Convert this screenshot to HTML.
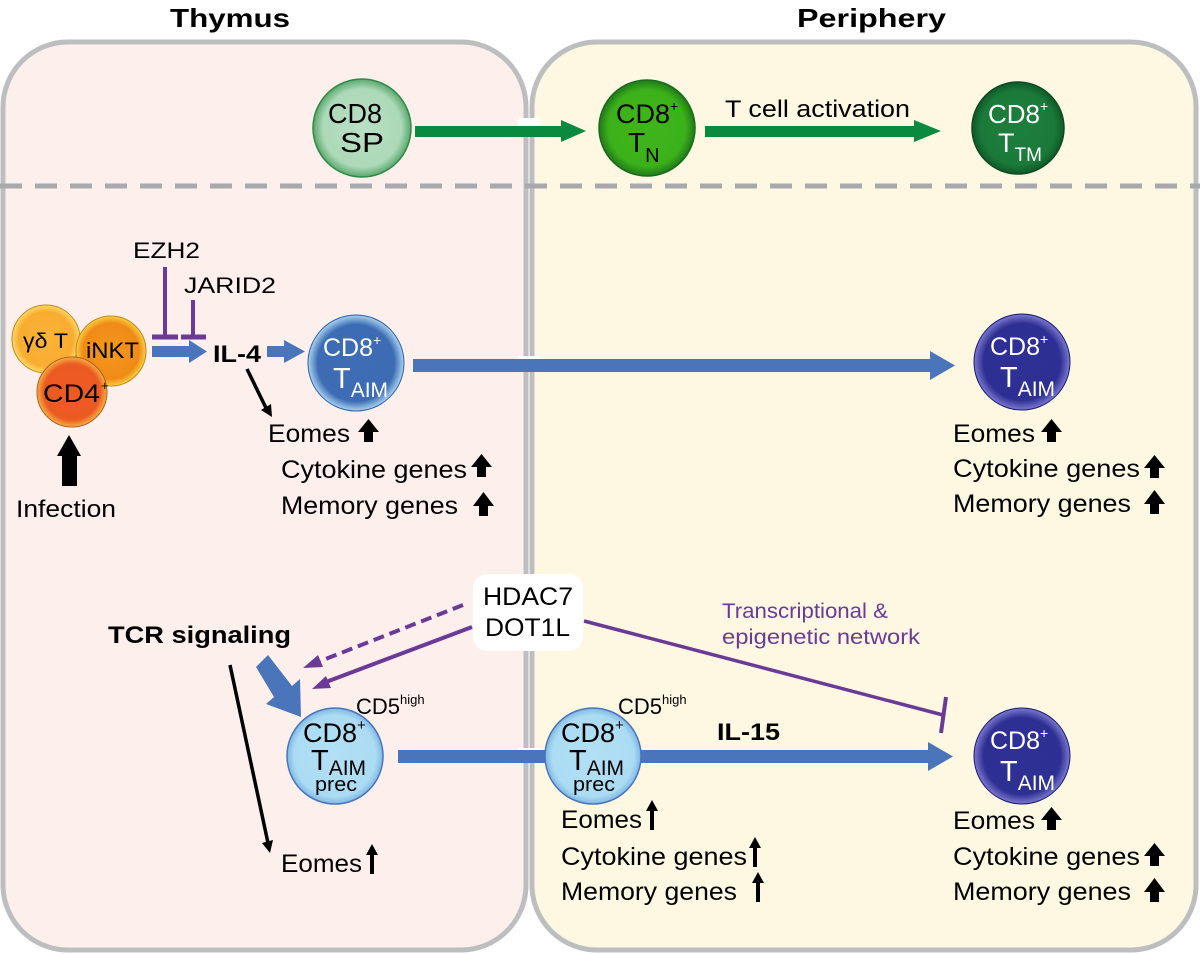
<!DOCTYPE html>
<html><head><meta charset="utf-8"><style>
html,body{margin:0;padding:0;background:#fff}
svg{display:block;font-family:"Liberation Sans",Arial,sans-serif}
</style></head><body>
<svg width="1200" height="954" viewBox="0 0 1200 954" xmlns="http://www.w3.org/2000/svg" font-size="24">
<defs>
<radialGradient id="gSP" cx="50%" cy="50%" r="50%"><stop offset="0" stop-color="#b9e0c4"/><stop offset="0.8" stop-color="#acd9b8"/><stop offset="1" stop-color="#5aa86e"/></radialGradient>
<radialGradient id="gTN" cx="50%" cy="50%" r="50%"><stop offset="0" stop-color="#3fb51c"/><stop offset="0.8" stop-color="#3cb11a"/><stop offset="1" stop-color="#1f7a1a"/></radialGradient>
<radialGradient id="gTM" cx="50%" cy="50%" r="50%"><stop offset="0" stop-color="#1d7f3c"/><stop offset="0.8" stop-color="#1b7a3a"/><stop offset="1" stop-color="#0f5a28"/></radialGradient>
<radialGradient id="gB" cx="50%" cy="50%" r="50%"><stop offset="0" stop-color="#3e6db5"/><stop offset="0.8" stop-color="#3d6cb4"/><stop offset="1" stop-color="#a9d4f0"/></radialGradient>
<radialGradient id="gD" cx="50%" cy="50%" r="50%"><stop offset="0" stop-color="#2f3094"/><stop offset="0.8" stop-color="#2e2f92"/><stop offset="1" stop-color="#7a7ad0"/></radialGradient>
<radialGradient id="gL" cx="50%" cy="50%" r="50%"><stop offset="0" stop-color="#b2e0f5"/><stop offset="0.85" stop-color="#abdcf3"/><stop offset="1" stop-color="#7fb8e4"/></radialGradient>
<radialGradient id="gY" cx="50%" cy="50%" r="50%"><stop offset="0" stop-color="#fbb33a"/><stop offset="0.8" stop-color="#f9ad30"/><stop offset="1" stop-color="#fbd86a"/></radialGradient>
<radialGradient id="gO" cx="50%" cy="50%" r="50%"><stop offset="0" stop-color="#f39a1c"/><stop offset="0.8" stop-color="#f08a18"/><stop offset="1" stop-color="#f8d040"/></radialGradient>
<radialGradient id="gR" cx="50%" cy="50%" r="50%"><stop offset="0" stop-color="#ef5a22"/><stop offset="0.8" stop-color="#ec5a24"/><stop offset="1" stop-color="#f5b040"/></radialGradient>
</defs>
<!-- panels -->
<rect x="3" y="42" width="523" height="908" rx="65" fill="#fdefec" stroke="#bcbec0" stroke-width="5"/>
<rect x="532" y="42" width="664" height="908" rx="65" fill="#fef8e2" stroke="#bcbec0" stroke-width="5"/>
<rect x="518" y="118" width="22" height="14" fill="#fff"/>
<rect x="518" y="356" width="22" height="10" fill="#fff"/>
<rect x="518" y="748" width="22" height="14" fill="#fff"/>
<line x1="0" y1="186" x2="1200" y2="186" stroke="#a7a9ac" stroke-width="5" stroke-dasharray="22,13"/>
<text x="170" y="27" font-size="26" font-weight="bold" textLength="120" lengthAdjust="spacingAndGlyphs">Thymus</text>
<text x="797" y="27" font-size="26" font-weight="bold" textLength="149" lengthAdjust="spacingAndGlyphs">Periphery</text>

<!-- top row -->
<circle cx="362" cy="128" r="49" fill="url(#gSP)" stroke="#2f8a45" stroke-width="1.5"/>
<text x="328" y="123" font-size="28" textLength="54" lengthAdjust="spacingAndGlyphs">CD8</text>
<text x="340" y="152" font-size="28" textLength="44" lengthAdjust="spacingAndGlyphs">SP</text>
<rect x="415" y="126" width="150" height="11" fill="#0a8a3e"/>
<polygon points="561,120 586,131 561,142" fill="#0a8a3e"/>
<circle cx="647" cy="128" r="48" fill="url(#gTN)" stroke="#1d6a1c" stroke-width="1.5"/>
<text x="616" y="123" font-size="27">CD8<tspan font-size="14" dy="-12">+</tspan></text>
<text x="628" y="152" font-size="28">T<tspan font-size="20" dy="10">N</tspan></text>
<rect x="705" y="126" width="212" height="11" fill="#0a8a3e"/>
<polygon points="914,120 941,131 914,142" fill="#0a8a3e"/>
<text x="725" y="117" textLength="185" lengthAdjust="spacingAndGlyphs">T cell activation</text>
<circle cx="1018" cy="128" r="46" fill="url(#gTM)" stroke="#0d4a20" stroke-width="1.5"/>
<text x="988" y="123" font-size="26" fill="#fff">CD8<tspan font-size="14" dy="-12">+</tspan></text>
<text x="998" y="152" font-size="27" fill="#fff">T<tspan font-size="19" dy="9">TM</tspan></text>

<!-- IL-4 row -->
<text x="133" y="258" font-size="22" textLength="67" lengthAdjust="spacingAndGlyphs">EZH2</text>
<text x="184" y="293" font-size="22" textLength="92" lengthAdjust="spacingAndGlyphs">JARID2</text>
<line x1="165" y1="267" x2="165" y2="336" stroke="#6a3a96" stroke-width="4"/>
<line x1="152" y1="337" x2="178" y2="337" stroke="#6a3a96" stroke-width="5"/>
<line x1="193" y1="300" x2="193" y2="336" stroke="#6a3a96" stroke-width="4"/>
<line x1="181" y1="337" x2="206" y2="337" stroke="#6a3a96" stroke-width="5"/>
<circle cx="46" cy="339" r="34" fill="url(#gY)" stroke="#c08a20" stroke-width="1"/>
<circle cx="111" cy="351" r="35" fill="url(#gO)" stroke="#c08a20" stroke-width="1"/>
<circle cx="72" cy="392" r="35" fill="url(#gR)" stroke="#b06020" stroke-width="1"/>
<text x="23" y="348" font-size="21" textLength="45" lengthAdjust="spacingAndGlyphs">γδ T</text>
<text x="86" y="358" font-size="22" textLength="53" lengthAdjust="spacingAndGlyphs">iNKT</text>
<text x="43" y="402" font-size="25" textLength="57" lengthAdjust="spacingAndGlyphs">CD4</text><text x="101" y="390" font-size="13">+</text>
<rect x="62" y="453" width="15" height="33" fill="#000"/>
<polygon points="57,456 69,435 81,456" fill="#000"/>
<text x="16" y="517" textLength="100" lengthAdjust="spacingAndGlyphs">Infection</text>
<rect x="152" y="346" width="40" height="11" fill="#4a75ba"/>
<polygon points="189,340 207,351.5 189,363" fill="#4a75ba"/>
<text x="213" y="362" font-weight="bold" textLength="48" lengthAdjust="spacingAndGlyphs">IL-4</text>
<rect x="267" y="346" width="20" height="11" fill="#4a75ba"/>
<polygon points="284,340 305,351.5 284,363" fill="#4a75ba"/>
<line x1="247" y1="369" x2="267" y2="410" stroke="#000" stroke-width="3.5"/>
<polygon points="261,410 272,417 271,404" fill="#000"/>
<circle cx="356" cy="363" r="48" fill="url(#gB)" stroke="#2f5fa8" stroke-width="1"/>
<text x="323" y="356" font-size="25" fill="#fff">CD8<tspan font-size="14" dy="-11">+</tspan></text>
<text x="333" y="388" font-size="29" fill="#fff">T<tspan font-size="21" dy="9">AIM</tspan></text>
<text x="268" y="442" font-size="25" textLength="82" lengthAdjust="spacingAndGlyphs">Eomes</text>
<path d="M364 442 h9 v-10 h6 l-10.5,-13 l-10.5,13 h6 z" fill="#000"/>
<text x="281" y="478" font-size="25" textLength="186" lengthAdjust="spacingAndGlyphs">Cytokine genes</text>
<path d="M477 477 h9 v-10 h6 l-10.5,-13 l-10.5,13 h6 z" fill="#000"/>
<text x="281" y="514" font-size="25" textLength="177" lengthAdjust="spacingAndGlyphs">Memory genes</text>
<path d="M479 516 h9 v-10 h6 l-10.5,-14 l-10.5,14 h6 z" fill="#000"/>
<rect x="413" y="359" width="520" height="13" fill="#4a75ba"/>
<polygon points="930,351 955,365.5 930,380" fill="#4a75ba"/>
<circle cx="1022" cy="362" r="48" fill="url(#gD)" stroke="#1a1a6a" stroke-width="1"/>
<text x="990" y="355" font-size="25" fill="#fff">CD8<tspan font-size="14" dy="-11">+</tspan></text>
<text x="1000" y="387" font-size="29" fill="#fff">T<tspan font-size="21" dy="9">AIM</tspan></text>
<text x="953" y="442" font-size="25" textLength="82" lengthAdjust="spacingAndGlyphs">Eomes</text>
<path d="M1047 442 h9 v-10 h6 l-10.5,-13 l-10.5,13 h6 z" fill="#000"/>
<text x="953" y="477" font-size="25" textLength="187" lengthAdjust="spacingAndGlyphs">Cytokine genes</text>
<path d="M1150 478 h9 v-10 h6 l-10.5,-13 l-10.5,13 h6 z" fill="#000"/>
<text x="953" y="512" font-size="25" textLength="178" lengthAdjust="spacingAndGlyphs">Memory genes</text>
<path d="M1150 514 h9 v-10 h6 l-10.5,-14 l-10.5,14 h6 z" fill="#000"/>

<!-- bottom row -->
<text x="108" y="643" font-weight="bold" textLength="183" lengthAdjust="spacingAndGlyphs">TCR signaling</text>
<polygon points="256,667 268,655 292,686 300,679 301,717 266,704 274,697" fill="#4a75ba"/>
<line x1="230" y1="665" x2="268" y2="843" stroke="#000" stroke-width="3.5"/>
<polygon points="262,843 270,853 273,840" fill="#000"/>
<text x="281" y="872" font-size="25" textLength="81" lengthAdjust="spacingAndGlyphs">Eomes</text>
<path d="M370 874 h4 v-19 h4 l-6,-11 l-6,11 h4 z" fill="#000"/>
<rect x="473" y="574" width="110" height="77" rx="14" fill="#fff"/>
<text x="483" y="605" font-size="25" textLength="90" lengthAdjust="spacingAndGlyphs">HDAC7</text>
<text x="485" y="636" font-size="25" textLength="85" lengthAdjust="spacingAndGlyphs">DOT1L</text>
<line x1="463" y1="605" x2="318" y2="662" stroke="#6a3a96" stroke-width="4" stroke-dasharray="11,6"/>
<polygon points="303,668 318,655 323,667" fill="#6a3a96"/>
<line x1="472" y1="627" x2="326" y2="682" stroke="#6a3a96" stroke-width="4"/>
<polygon points="312,689 326,676 331,688" fill="#6a3a96"/>
<line x1="584" y1="621" x2="943" y2="715" stroke="#6a3a96" stroke-width="3.5"/>
<line x1="946" y1="697" x2="941" y2="733" stroke="#6a3a96" stroke-width="4"/>
<text x="722" y="618" font-size="21" fill="#6a3a96" textLength="166" lengthAdjust="spacingAndGlyphs">Transcriptional &amp;</text>
<text x="722" y="644" font-size="21" fill="#6a3a96" textLength="198" lengthAdjust="spacingAndGlyphs">epigenetic network</text>
<rect x="398" y="750" width="535" height="13" fill="#4a75ba"/>
<polygon points="928,742 953,756.5 928,771" fill="#4a75ba"/>
<circle cx="335" cy="756" r="48" fill="url(#gL)" stroke="#4a75ba" stroke-width="1.5"/>
<text x="303" y="742" font-size="27">CD8<tspan font-size="15" dy="-12">+</tspan></text>
<text x="311" y="770" font-size="29">T<tspan font-size="21" dy="5">AIM</tspan></text>
<text x="315" y="791" font-size="20" textLength="42" lengthAdjust="spacingAndGlyphs">prec</text>
<text x="356" y="714" font-size="22">CD5<tspan font-size="13" dy="-10">high</tspan></text>
<circle cx="593" cy="756" r="48" fill="url(#gL)" stroke="#4a75ba" stroke-width="1.5"/>
<text x="561" y="742" font-size="27">CD8<tspan font-size="15" dy="-12">+</tspan></text>
<text x="569" y="770" font-size="29">T<tspan font-size="21" dy="5">AIM</tspan></text>
<text x="573" y="791" font-size="20" textLength="42" lengthAdjust="spacingAndGlyphs">prec</text>
<text x="618" y="714" font-size="22">CD5<tspan font-size="13" dy="-10">high</tspan></text>
<text x="717" y="740" font-weight="bold" textLength="63" lengthAdjust="spacingAndGlyphs">IL-15</text>
<text x="561" y="828" font-size="25" textLength="81" lengthAdjust="spacingAndGlyphs">Eomes</text>
<path d="M650 830 h4 v-19 h4 l-6,-11 l-6,11 h4 z" fill="#000"/>
<text x="561" y="865" font-size="25" textLength="186" lengthAdjust="spacingAndGlyphs">Cytokine genes</text>
<path d="M753 867 h4 v-19 h4 l-6,-11 l-6,11 h4 z" fill="#000"/>
<text x="561" y="900" font-size="25" textLength="176" lengthAdjust="spacingAndGlyphs">Memory genes</text>
<path d="M756 902 h4 v-19 h4 l-6,-11 l-6,11 h4 z" fill="#000"/>
<circle cx="1022" cy="756" r="48" fill="url(#gD)" stroke="#1a1a6a" stroke-width="1"/>
<text x="990" y="749" font-size="25" fill="#fff">CD8<tspan font-size="14" dy="-11">+</tspan></text>
<text x="1000" y="781" font-size="29" fill="#fff">T<tspan font-size="21" dy="9">AIM</tspan></text>
<text x="953" y="829" font-size="25" textLength="82" lengthAdjust="spacingAndGlyphs">Eomes</text>
<path d="M1047 830 h9 v-10 h6 l-10.5,-13 l-10.5,13 h6 z" fill="#000"/>
<text x="953" y="865" font-size="25" textLength="187" lengthAdjust="spacingAndGlyphs">Cytokine genes</text>
<path d="M1150 866 h9 v-10 h6 l-10.5,-13 l-10.5,13 h6 z" fill="#000"/>
<text x="953" y="900" font-size="25" textLength="178" lengthAdjust="spacingAndGlyphs">Memory genes</text>
<path d="M1150 902 h9 v-10 h6 l-10.5,-14 l-10.5,14 h6 z" fill="#000"/>
</svg>
</body></html>
